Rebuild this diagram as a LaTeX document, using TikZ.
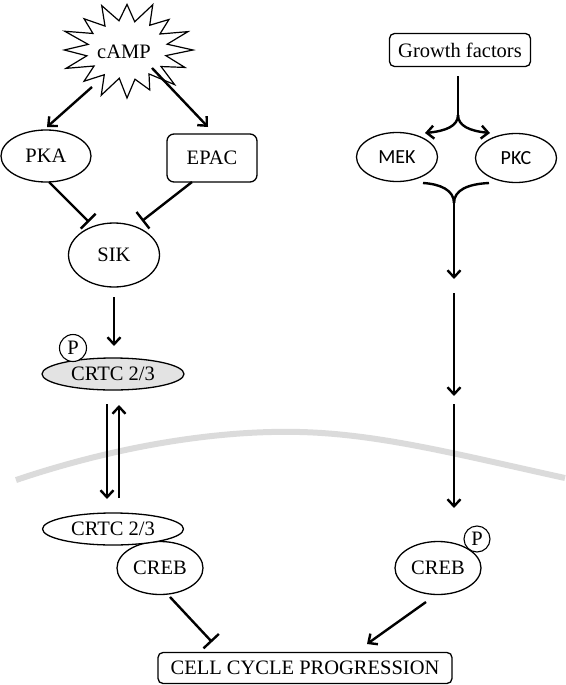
\documentclass[tikz,border=0pt]{standalone}
\usepackage{fontspec}
\setmainfont{Liberation Serif}
\newfontfamily\calib{Carlito}
\usetikzlibrary{arrows.meta,shapes.geometric}
\begin{document}
\begin{tikzpicture}[x=1pt,y=-1pt,
  every node/.style={font=\fontsize{20.5}{23}\selectfont, inner sep=0pt},
  ell/.style={draw, ellipse, line width=1.3pt, fill=white},
  rbox/.style={draw, rounded corners=5pt, line width=1.3pt, fill=white},
  pcirc/.style={draw, circle, line width=1.1pt, minimum size=27pt, fill=white},
  sansfont/.style={font=\calib\fontsize{20}{23}\selectfont},
  arr/.style={line width=2.4pt, -{Straight Barb[length=7pt,width=13pt,line width=2.4pt]}},
  inh/.style={line width=2.4pt, -{Bar[width=21pt,line width=2.4pt]}},
  plain/.style={line width=2.4pt},
  membrane/.style={line width=6pt, black!14},
  star/.style={line width=1.2pt, fill=white, line join=miter}
]
\useasboundingbox (0,0) rectangle (565,685);

% membrane
\draw[membrane] (16,480) .. controls (120,445) and (220,430) .. (300,432)
  .. controls (380,434) and (460,455) .. (565,478);

% cAMP starburst
\draw[star] (193,50) \foreach \k/\r in {1/0.6,2/0.95,3/0.62,4/1.02,5/0.6,6/0.9,7/0.62,8/1.0,9/0.6,10/1.02,11/0.62,12/0.92,13/0.6,14/1.0,15/0.62,16/0.95,17/0.6,18/1.02,19/0.62,20/0.92,21/0.6,22/1.0,23/0.62,24/0.95,25/0.6,26/1.02,27/0.62,28/0.9,29/0.6,30/1.0,31/0.62}
  { -- ({127+66*\r*cos(\k*11.25)},{50+48*\r*sin(\k*11.25)}) } -- cycle;
\node (camp) at (124,52) {cAMP};

% left branch nodes
\node[ell, minimum width=90pt, minimum height=52pt] (pka) at (46,156) {PKA};
\node[rbox, rounded corners=7pt, minimum width=90pt, minimum height=48pt] (epac) at (212,158) {EPAC};
\node[ell, minimum width=91pt, minimum height=64pt] (sik) at (114,255) {SIK};
\node[ell, fill=gray!22, minimum width=142pt, minimum height=32pt] (crtc1) at (113,374) {CRTC 2/3};
\node[pcirc] (p1) at (73,348) {P};
\node[ell, minimum width=86pt, minimum height=53pt] (crebL) at (160,568) {CREB};
\node[ell, minimum width=141pt, minimum height=32pt] (crtc2) at (113,529) {CRTC 2/3};

% right branch nodes
\node[rbox, minimum width=141pt, minimum height=33pt] (gf) at (460,50) {Growth factors};
\node[ell, sansfont, minimum width=81pt, minimum height=49pt] (mek) at (397,157) {MEK};
\node[ell, sansfont, minimum width=81pt, minimum height=49pt] (pkc) at (516,158) {PKC};
\node[ell, minimum width=86pt, minimum height=53pt] (crebR) at (438,568) {CREB};
\node[pcirc, minimum size=26pt] (p2) at (477,539) {P};

% bottom
\node[rbox, minimum width=294pt, minimum height=31pt] (ccp) at (305,668) {CELL CYCLE PROGRESSION};

% coordinates for connector ends
\coordinate (campL) at (92,87);   \coordinate (pkaT) at (47,127);
\coordinate (campR) at (152,68);  \coordinate (epacT) at (208,127);
\coordinate (pkaB) at (49,182);   \coordinate (sikL) at (89,222);
\coordinate (epacB) at (192,182); \coordinate (sikR) at (142,221);
\coordinate (sikB) at (114,297);  \coordinate (crtcT) at (114,346);
\coordinate (dnS) at (107,404);   \coordinate (dnE) at (107,499);
\coordinate (upS) at (119,498);   \coordinate (upE) at (119,405);
\coordinate (crebLB) at (170,597); \coordinate (ccpL) at (212,642);
\coordinate (crebRB) at (426,602); \coordinate (ccpR) at (367,644);
\coordinate (gfB) at (458,76);    \coordinate (fork) at (458,115);
\coordinate (mekT) at (425,133);  \coordinate (pkcT) at (490,133);
\coordinate (mekB) at (423,183);  \coordinate (pkcB) at (489,183);
\coordinate (merge) at (454,203);
\coordinate (a1e) at (454,279);
\coordinate (a2s) at (454,293);   \coordinate (a2e) at (454,396);
\coordinate (a3s) at (454,404);   \coordinate (a3e) at (454,508);

% connectors left
\draw[arr] (campL) -- (pkaT);
\draw[arr] (campR) -- (epacT);
\draw[inh] (pkaB) -- (sikL);
\draw[inh] (epacB) -- (sikR);
\draw[arr] (sikB) -- (crtcT);
\draw[arr] (dnS) -- (dnE);
\draw[arr] (upS) -- (upE);
\draw[inh] (crebLB) -- (ccpL);

% connectors right
\draw[plain] (gfB) -- (fork);
\draw[arr] (fork) .. controls (458,126) and (446,131) .. (mekT);
\draw[arr] (fork) .. controls (458,126) and (470,131) .. (pkcT);
\draw[plain] (mekB) .. controls (440,184) and (454,190) .. (merge);
\draw[plain] (pkcB) .. controls (468,184) and (454,190) .. (merge);
\draw[arr] (merge) -- (a1e);
\draw[arr] (a2s) -- (a2e);
\draw[arr] (a3s) -- (a3e);
\draw[arr] (crebRB) -- (ccpR);
\end{tikzpicture}
\end{document}
